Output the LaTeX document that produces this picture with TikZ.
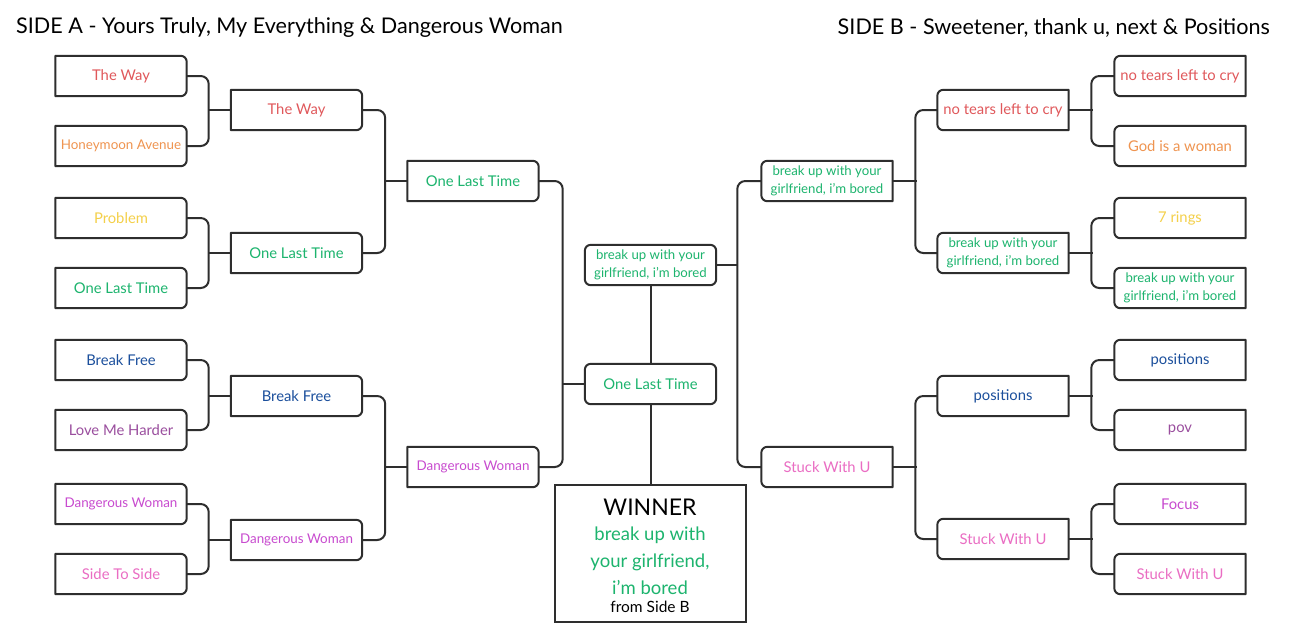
\documentclass[tikz,border=0pt]{standalone}
\usepackage{fontspec}
\setmainfont{Lato}
\definecolor{cred}{HTML}{E0585B}
\definecolor{corange}{HTML}{EF9450}
\definecolor{cyellow}{HTML}{F4D04A}
\definecolor{cgreen}{HTML}{1DB46E}
\definecolor{cblue}{HTML}{1B4F9C}
\definecolor{cpurple}{HTML}{9A4E9E}
\definecolor{cmag}{HTML}{C84BCF}
\definecolor{cpink}{HTML}{EA6DC3}
\definecolor{cline}{HTML}{2E2E2E}
\newcommand\apos{{\char"27}}
\tikzset{
  x=1pt, y=1pt,
  box/.style={minimum width=131pt, minimum height=40pt, inner sep=0pt, align=center,
    font=\fontsize{14.8}{17}\selectfont},
  sm/.style={font=\fontsize{13.4}{16}\selectfont},
  two/.style={font=\fontsize{13.2}{18}\selectfont},
  ol/.style={draw=cline, line width=2pt, line join=round},
  conn/.style={draw=cline, line width=2pt, rounded corners=8pt},
}
\newcommand\outR[1]{\draw[ol] (#1.south west) -- (#1.north west) -- ([xshift=-6pt]#1.north east) arc[start angle=90,end angle=0,radius=6pt] -- ([yshift=6pt]#1.south east) arc[start angle=0,end angle=-90,radius=6pt] -- cycle;}
\newcommand\outL[1]{\draw[ol] (#1.north east) -- (#1.south east) -- ([xshift=6pt]#1.south west) arc[start angle=270,end angle=180,radius=6pt] -- ([yshift=-6pt]#1.north west) arc[start angle=180,end angle=90,radius=6pt] -- cycle;}
\begin{document}
\begin{tikzpicture}
\useasboundingbox[fill=white] (0,0) rectangle (1300,-641);
% titles
\node[anchor=west, font=\fontsize{21.6}{24}\selectfont, inner sep=0pt] (tA) at (16,-28) {SIDE A - Yours Truly, My Everything \& Dangerous Woman};
\node[anchor=east, font=\fontsize{21.6}{24}\selectfont, inner sep=0pt] (tB) at (1270,-28) {SIDE B - Sweetener, thank u, next \& Positions};
% left column 1
\node[box, text=cred] (L1a) at (121,-76) {The Way};
\node[box, sm, text=corange] (L1b) at (121,-146) {Honeymoon Avenue};
\node[box, text=cyellow] (L1c) at (121,-218) {Problem};
\node[box, text=cgreen] (L1d) at (121,-288) {One Last Time};
\node[box, text=cblue] (L1e) at (121,-360) {Break Free};
\node[box, text=cpurple] (L1f) at (121,-430) {Love Me Harder};
\node[box, sm, text=cmag] (L1g) at (121,-504) {Dangerous Woman};
\node[box, text=cpink] (L1h) at (121,-574) {Side To Side};
% left column 2
\node[box, text=cred] (L2a) at (296.5,-110) {The Way};
\node[box, text=cgreen] (L2b) at (296.5,-253) {One Last Time};
\node[box, text=cblue] (L2c) at (296.5,-396) {Break Free};
\node[box, sm, text=cmag] (L2d) at (296.5,-540) {Dangerous Woman};
% left column 3
\node[box, text=cgreen] (L3a) at (473,-181) {One Last Time};
\node[box, sm, text=cmag] (L3b) at (473,-467) {Dangerous Woman};
% center
\node[box, two, text=cgreen] (C1) at (650.5,-265) {break up with your\\girlfriend, i\apos m bored};
\node[box, text=cgreen] (C2) at (650.5,-384) {One Last Time};
\node[draw=cline, line width=2pt, minimum width=191pt, minimum height=137pt, inner sep=0pt] (W) at (650,-553.5) {};
\node[font=\fontsize{23}{26}\selectfont, inner sep=0pt] (Wt) at (650,-507) {WINNER};
\node[font=\fontsize{18.5}{27}\selectfont, text=cgreen, align=center, inner sep=0pt] (Wn) at (650,-561) {break up with\\your girlfriend,\\i\apos m bored};
\node[font=\fontsize{15.5}{18}\selectfont, inner sep=0pt] (Wf) at (650,-607) {from Side B};
% right column 3
\node[box, two, text=cgreen] (R3a) at (827,-181) {break up with your\\girlfriend, i\apos m bored};
\node[box, text=cpink] (R3b) at (827,-467) {Stuck With U};
% right column 2
\node[box, text=cred] (R2a) at (1003,-110) {no tears left to cry};
\node[box, two, text=cgreen] (R2b) at (1003,-253) {break up with your\\girlfriend, i\apos m bored};
\node[box, text=cblue] (R2c) at (1003,-396) {positions};
\node[box, text=cpink] (R2d) at (1003,-539) {Stuck With U};
% right column 1
\node[box, text=cred] (R1a) at (1180,-76) {no tears left to cry};
\node[box, text=corange] (R1b) at (1180,-146) {God is a woman};
\node[box, text=cyellow] (R1c) at (1180,-218) {7 rings};
\node[box, two, text=cgreen] (R1d) at (1180,-288) {break up with your\\girlfriend, i\apos m bored};
\node[box, text=cblue] (R1e) at (1180,-360) {positions};
\node[box, text=cpurple] (R1f) at (1180,-430) {pov};
\node[box, text=cmag] (R1g) at (1180,-504) {Focus};
\node[box, text=cpink] (R1h) at (1180,-574) {Stuck With U};
% outlines
\foreach \n in {L1a,L1b,L1c,L1d,L1e,L1f,L1g,L1h,L2a,L2b,L2c,L2d,L3a,L3b}{\outR{\n}}
\foreach \n in {R1a,R1b,R1c,R1d,R1e,R1f,R1g,R1h,R2a,R2b,R2c,R2d,R3a,R3b}{\outL{\n}}
\draw[ol, rounded corners=6pt] (C1.south west) rectangle (C1.north east);
\draw[ol, rounded corners=6pt] (C2.south west) rectangle (C2.north east);
% left connectors
\draw[conn] (L1a.east) -- ++(22,0) |- (L1b.east);
\draw[conn] (L1c.east) -- ++(22,0) |- (L1d.east);
\draw[conn] (L1e.east) -- ++(22,0) |- (L1f.east);
\draw[conn] (L1g.east) -- ++(22,0) |- (L1h.east);
\draw[conn] (L2a.west) -- ++(-22,0);
\draw[conn] (L2b.west) -- ++(-22,0);
\draw[conn] (L2c.west) -- ++(-22,0);
\draw[conn] (L2d.west) -- ++(-22,0);
\draw[conn] (L2a.east) -- ++(23,0) |- (L2b.east);
\draw[conn] (L2c.east) -- ++(23,0) |- (L2d.east);
\draw[conn] (L3a.west) -- ++(-23,0);
\draw[conn] (L3b.west) -- ++(-23,0);
\draw[conn] (L3a.east) -- ++(24,0) |- (L3b.east);
\draw[conn] (C2.west) -- ++(-23,0);
% center
\draw[conn] (R3a.west) -- ++(-24,0) |- (R3b.west);
\draw[conn] (C1.east) -- ++(22,0);
\draw[conn] (C1.south) -- (C2.north);
\draw[conn] (C2.south) -- (C2.south |- W.north);
% right connectors
\draw[conn] (R3a.east) -- ++(24,0);
\draw[conn] (R3b.east) -- ++(24,0);
\draw[conn] (R2a.west) -- ++(-22,0) |- (R2b.west);
\draw[conn] (R2c.west) -- ++(-22,0) |- (R2d.west);
\draw[conn] (R2a.east) -- ++(24,0);
\draw[conn] (R2b.east) -- ++(24,0);
\draw[conn] (R2c.east) -- ++(24,0);
\draw[conn] (R2d.east) -- ++(24,0);
\draw[conn] (R1a.west) -- ++(-23,0) |- (R1b.west);
\draw[conn] (R1c.west) -- ++(-23,0) |- (R1d.west);
\draw[conn] (R1e.west) -- ++(-23,0) |- (R1f.west);
\draw[conn] (R1g.west) -- ++(-23,0) |- (R1h.west);
\end{tikzpicture}
\end{document}
